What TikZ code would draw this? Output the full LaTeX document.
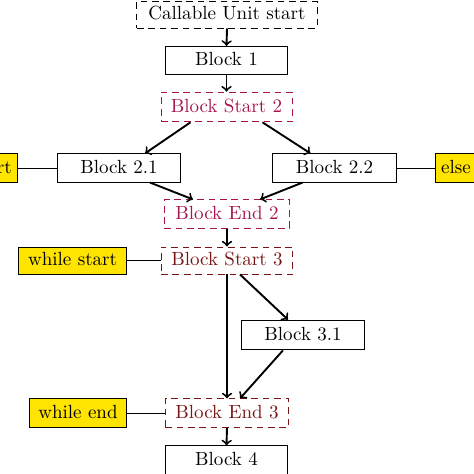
\documentclass[tikz,border=0pt]{standalone}
\usetikzlibrary{calc}
\definecolor{bsa}{RGB}{165,20,80}
\definecolor{bsb}{RGB}{120,20,20}
\definecolor{tagy}{RGB}{255,228,0}
\begin{document}
\begin{tikzpicture}[x=0.5253pt,y=-0.5253pt,
  box/.style={draw,line width=0.5pt,minimum height=14.8pt,inner sep=0pt,text height=7pt,text depth=1.5pt},
  blk/.style={box,minimum width=64.5pt},
  dbox/.style={box,dash pattern=on 3.5pt off 2.5pt},
  grp2/.style={dbox,draw=bsa,text=bsa},
  grp3/.style={dbox,draw=bsb,text=bsb},
  tag/.style={box,fill=tagy,inner xsep=3pt},
  arr/.style={->,line width=1pt},
  lnk/.style={line width=0.5pt}]
\clip (0,0) rectangle (474,474);
\useasboundingbox (0,0) rectangle (474,474);
\node[dbox,minimum width=94.6pt,minimum height=14.2pt] (cu) at (227,14.5) {Callable Unit start};
\node[blk] (b1) at (226.5,60.5) {Block 1};
\node[grp2,minimum width=68.8pt,minimum height=15.6pt] (bs2) at (226.5,107) {Block Start 2};
\node[blk,minimum width=65pt] (b21) at (119,168) {Block 2.1};
\node[blk,minimum width=65.5pt] (b22) at (334.5,168) {Block 2.2};
\node[tag,anchor=east] (ifs) at (18,168) {if start};
\node[tag,anchor=west] (els) at (435,168) {else start};
\node[grp2,minimum width=66pt] (be2) at (227,214) {Block End 2};
\node[grp3,minimum width=69.3pt,minimum height=14.2pt] (bs3) at (227,260.5) {Block Start 3};
\node[tag,anchor=east,minimum width=56.7pt,minimum height=14.2pt] (ws) at (127,260.5) {while start};
\node[blk,minimum width=65pt,minimum height=15.6pt] (b31) at (303,335) {Block 3.1};
\node[grp3,minimum width=65pt] (be3) at (227,413) {Block End 3};
\node[tag,anchor=east,minimum width=51pt] (we) at (127,413) {while end};
\node[blk] (b4) at (226.5,460) {Block 4};
\draw[arr] (cu.south) -- (b1.north);
\draw[arr] (b1.south) -- (bs2.north);
\draw[arr] ($(bs2.south)+(-36,0)$) -- ($(b21.north)+(26,0)$);
\draw[arr] ($(bs2.south)+(36,0)$) -- ($(b22.north)+(-24,0)$);
\draw[arr] ($(b21.south)+(31,0)$) -- ($(be2.north)+(-34,0)$);
\draw[arr] ($(b22.south)+(-32,0)$) -- ($(be2.north)+(33,0)$);
\draw[arr] (be2.south) -- (bs3.north);
\draw[arr] ($(bs3.south)+(13,0)$) -- ($(b31.north)+(-15,0)$);
\draw[arr] (bs3.south) -- (be3.north);
\draw[arr] ($(b31.south)+(-20,0)$) -- ($(be3.north)+(13,0)$);
\draw[arr] (be3.south) -- (b4.north);
\draw[lnk] (ifs.east) -- (b21.west);
\draw[lnk] (els.west) -- (b22.east);
\draw[lnk] (ws.east) -- (bs3.west);
\draw[lnk] (we.east) -- (be3.west);
\end{tikzpicture}
\end{document}
